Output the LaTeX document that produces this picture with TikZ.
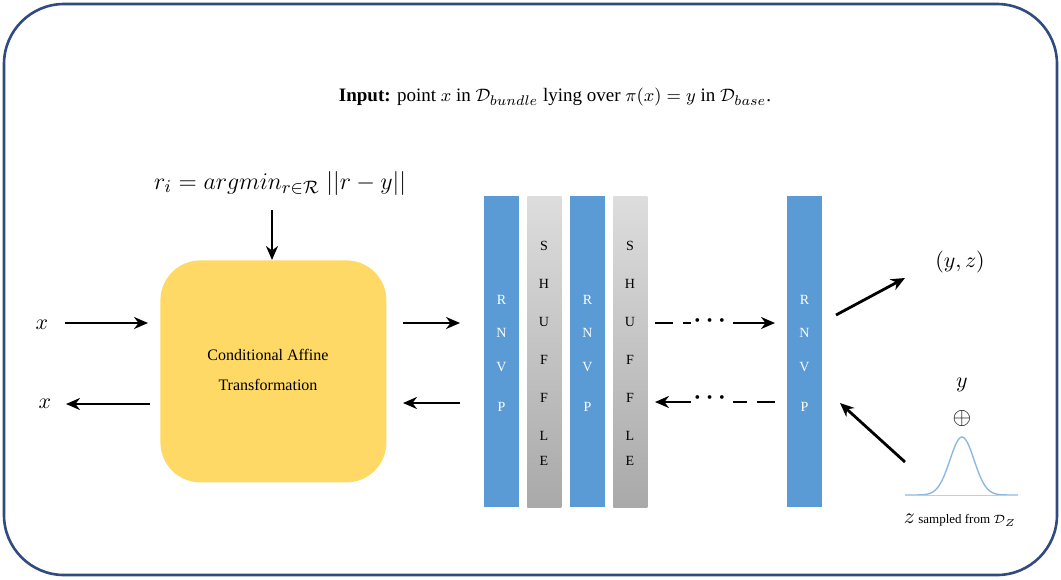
\documentclass[tikz,border=0pt]{standalone}
\usepackage{fontspec}
\setmainfont{Liberation Serif}
\usepackage{amsmath}
\usetikzlibrary{arrows.meta}
\definecolor{frame}{HTML}{2F4B80}
\definecolor{yel}{HTML}{FFD966}
\definecolor{bl}{HTML}{5B9BD5}
\definecolor{gl}{HTML}{DDDDDD}
\definecolor{gd}{HTML}{A9A9A9}
\tikzset{
  arr/.style={-{Stealth[length=7pt,width=6pt]},line width=1.4pt},
  rnvp/.style={fill=bl,draw=none,minimum width=17.5pt,minimum height=155.5pt,anchor=north west,inner sep=0pt},
  shuf/.style={top color=gl,bottom color=gd,draw=none,minimum width=17pt,minimum height=155.5pt,anchor=north west,inner sep=0pt},
  lt/.style={font=\fontsize{7}{8}\selectfont,text=white},
  ltd/.style={font=\fontsize{7}{8}\selectfont,text=black},
  dots/.style={font=\fontsize{12}{12}\selectfont\boldmath,inner sep=1pt}
}
\begin{document}
\begin{tikzpicture}[x=0.5pt,y=-0.5pt]
\useasboundingbox (0,0) rectangle (1061,579);
\draw[frame,line width=1.3pt,rounded corners=30pt] (4,4) rectangle (1057,575);
\node (title) at (555,97) {\fontsize{9.5}{10}\selectfont\textbf{Input:} point $x$ in $\mathcal{D}_{bundle}$ lying over $\pi(x)=y$ in $\mathcal{D}_{base}$.};
\node (ri) at (280,183) {\fontsize{12.5}{14}\selectfont $r_i = argmin_{r\in\mathcal{R}}\;||r-y||$};
\coordinate (ritop) at (272,210);
\node[fill=yel,draw=none,rounded corners=20pt,minimum width=113pt,minimum height=111pt,anchor=north west] (cat) at (160,260) {};
\node[font=\fontsize{8}{9}\selectfont,align=center] at (268,370) {Conditional Affine\\[6pt]Transformation};
\draw[arr] (ritop) -- (cat.north -| ritop);
\node (x1) at (42,325) {\fontsize{11}{12}\selectfont $x$};
\node (x2) at (45,404) {\fontsize{11}{12}\selectfont $x$};
\coordinate (c1) at (148,323); \coordinate (c2) at (150,404);
\draw[arr] (65,323) -- (c1);
\draw[arr] (c2) -- (66,404);
\draw[arr] (403,323) -- (460,323);
\draw[arr] (460,403) -- (403,403);
\foreach \n/\xx in {b1/484,b2/570,b3/787}{
  \node[rnvp] (\n) at (\xx,196) {};
  \foreach \L/\yy in {R/300,N/333,V/367,P/407}{\node[lt] at (\xx+17.5,\yy) {\L};}
}
\foreach \n/\xx in {s1/527,s2/613}{
  \node[shuf] (\n) at (\xx,196) {};
  \foreach \L/\yy in {S/246,H/284,U/322,F/360,F/398,L/436,E/461}{\node[ltd] at (\xx+17,\yy) {\L};}
}
\node[dots] (d1) at (712,321) {$\cdots$};
\node[dots] (d2) at (712,398) {$\cdots$};
\draw[line width=1.4pt,dash pattern=on 9pt off 5pt] (655,323) -- (d1.west |- 0,323);
\draw[arr] (d1.east |- 0,323) -- (775,323);
\draw[arr] (d2.west |- 0,402) -- (655,402);
\draw[line width=1.4pt,dash pattern=on 9pt off 5pt] (775,402) -- (d2.east |- 0,402);
\node (yz) at (960,262) {\fontsize{11}{12}\selectfont $(y,z)$};
\draw[arr] (836,315) -- (905,278);
\draw[arr] (905,462) -- (840,403);
\node (y) at (962,385) {\fontsize{11}{12}\selectfont $y$};
\node (op) at (962,418) {\fontsize{12}{12}\selectfont $\oplus$};
\draw[bl!70,line width=0.7pt,domain=905:1018,samples=80] plot (\x,{495-58*exp(-((\x-962)/17)^2)});
\draw[gray!40,line width=0.4pt] (905,495) -- (1018,495);
\node (zs) at (960,520) {\fontsize{11}{12}\selectfont $z$\fontsize{6.5}{8}\selectfont{} sampled from $\mathcal{D}_Z$};
\end{tikzpicture}
\end{document}
